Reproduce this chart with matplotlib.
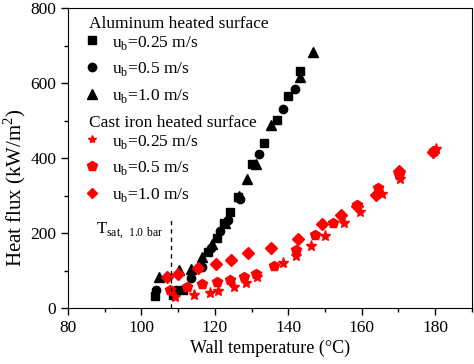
import matplotlib
matplotlib.use('Agg')
import matplotlib.pyplot as plt
from matplotlib.lines import Line2D
from matplotlib.ticker import MultipleLocator

plt.rcParams['font.family'] = ['Liberation Serif', 'DejaVu Serif']
plt.rcParams['mathtext.fontset'] = 'custom'
plt.rcParams['mathtext.rm'] = 'Liberation Serif'
plt.rcParams['font.size'] = 12

# Aluminum heated surface
al_025_T = [103.7, 108.7, 111.4, 118.0, 120.5, 122.5, 124.1, 126.3, 130.2, 133.4, 136.8, 139.9, 143.1]
al_025_q = [32, 35, 48, 150, 188, 228, 255, 297, 384, 439, 501, 565, 632]
al_05_T = [103.9, 109.4, 113.4, 116.4, 118.9, 121.5, 123.6, 126.8, 132.1, 138.6, 141.7]
al_05_q = [48, 48, 79, 110, 160, 206, 236, 292, 411, 530, 585]
al_10_T = [104.8, 110.3, 113.6, 116.6, 119.1, 122.8, 126.5, 128.7, 131.2, 135.4, 143.1, 146.7]
al_10_q = [82, 101, 103, 137, 170, 228, 300, 344, 384, 488, 615, 684]

# Cast iron heated surface
ci_025_T = [109.1, 114.3, 118.6, 120.9, 125.2, 128.6, 131.4, 138.6, 142.2, 146.1, 150.1, 155.2, 159.5, 165.6, 170.4, 180.3]
ci_025_q = [30, 35, 39, 46, 55, 68, 82, 121, 139, 166, 192, 228, 257, 304, 343, 423]
ci_05_T = [107.8, 112.3, 116.6, 120.5, 124.2, 127.8, 131.2, 136.0, 142.2, 147.2, 152.2, 158.6, 164.4, 170.2, 179.8]
ci_05_q = [48, 57, 64, 70, 75, 82, 92, 112, 155, 195, 226, 276, 319, 355, 420]
ci_10_T = [107.0, 110.0, 115.5, 120.3, 124.5, 129.0, 135.4, 142.7, 149.3, 154.3, 158.8, 164.0, 170.2, 179.5]
ci_10_q = [82, 92, 108, 117, 127, 146, 159, 183, 224, 248, 272, 301, 365, 416]

T_sat = 108.0
red = '#ff0000'

fig = plt.figure(figsize=(4.74, 3.64), dpi=100)
ax = fig.add_axes([0.1435, 0.1538, 0.852, 0.824])

ax.plot(al_025_T, al_025_q, 's', color='black', ms=5.5, ls='none')
ax.plot(al_05_T, al_05_q, 'o', color='black', ms=6, ls='none')
ax.plot(al_10_T, al_10_q, '^', color='black', ms=6.5, ls='none')
ax.plot(ci_025_T, ci_025_q, '*', color=red, ms=8, ls='none')
ax.plot(ci_05_T, ci_05_q, 'p', color=red, ms=7.5, ls='none')
ax.plot(ci_10_T, ci_10_q, 'D', color=red, ms=6, ls='none')

ax.plot([T_sat, T_sat], [0, 235], color='black', lw=1, dashes=(3, 3))
ax.text(105.9, 205, r'T$_{\rm sat,\ 1.0\ bar}$', ha='right', va='center', fontsize=12)

ax.set_xlim(80, 190)
ax.set_ylim(0, 800)
ax.xaxis.set_major_locator(MultipleLocator(20))
ax.xaxis.set_minor_locator(MultipleLocator(10))
ax.yaxis.set_major_locator(MultipleLocator(200))
ax.yaxis.set_minor_locator(MultipleLocator(100))
ax.tick_params(which='major', direction='out', length=5, width=1, labelsize=12.5)
ax.tick_params(which='minor', direction='out', length=3, width=1)
ax.set_xlabel('Wall temperature (°C)', fontsize=13, labelpad=3)
ax.set_ylabel('Heat flux (kW/m$^2$)', fontsize=15)
ax.yaxis.set_label_coords(-0.10, 0.40)

labels = [r'u$_{\rm b}$=0.25 m/s', r'u$_{\rm b}$=0.5 m/s', r'u$_{\rm b}$=1.0 m/s']
al_handles = [Line2D([], [], marker='s', color='black', ls='none', ms=5.5),
              Line2D([], [], marker='o', color='black', ls='none', ms=6),
              Line2D([], [], marker='^', color='black', ls='none', ms=6.5)]
ci_handles = [Line2D([], [], marker='*', color=red, ls='none', ms=6),
              Line2D([], [], marker='p', color=red, ls='none', ms=7),
              Line2D([], [], marker='D', color=red, ls='none', ms=5.5)]

# group headers
ax.text(0.052, 0.947, 'Aluminum heated surface', transform=ax.transAxes,
        ha='left', va='center', fontsize=12.5)
ax.text(0.052, 0.618, 'Cast iron heated surface', transform=ax.transAxes,
        ha='left', va='center', fontsize=12.5)

leg_kw = dict(loc='upper left', frameon=False, fontsize=12.5, handlelength=0.3,
              handletextpad=1.05, labelspacing=0.5, borderpad=0, borderaxespad=0)
leg1 = ax.legend(al_handles, labels, bbox_to_anchor=(0.052, 0.915), **leg_kw)
ax.add_artist(leg1)
ax.legend(ci_handles, labels, bbox_to_anchor=(0.052, 0.585), **leg_kw)

fig.savefig('out.png', dpi=100)
